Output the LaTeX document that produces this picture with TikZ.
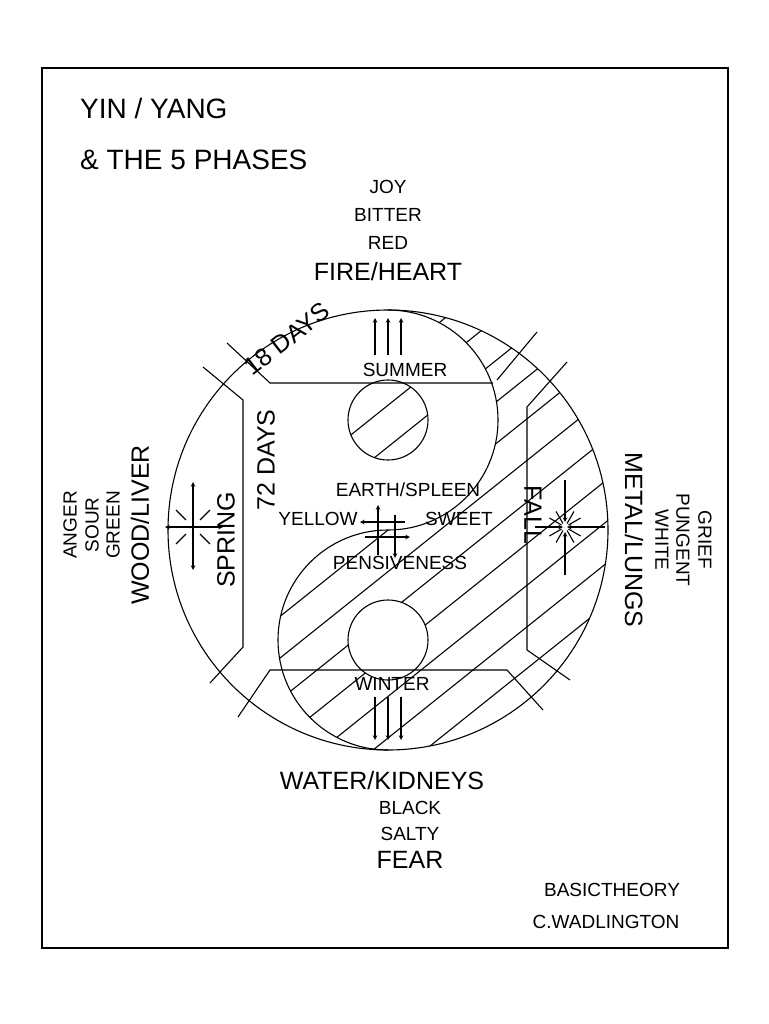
\documentclass[tikz,border=0pt]{standalone}
\usepackage{fontspec}
\setmainfont{Liberation Sans}
\begin{document}
\begin{tikzpicture}
      [ x=1pt, y=-1pt
      , ink/.style={black, line width=1.1pt}
      , lbl/.style={font=\fontsize{19}{19}\selectfont, inner sep=0pt}
      , big/.style={font=\fontsize{25}{25}\selectfont, inner sep=0pt}
      , arr/.style={ink, ->, >=stealth}
      ]
    \useasboundingbox (0,0) rectangle (768,1024);
    \draw[ink] (42,68) rectangle (728,948);

    % yin yang
    \coordinate (O) at (388,530);
    \draw[ink] (O) circle (220);
    \draw[ink] (388,310) arc (-90:90:110) arc (-90:-270:110);
    \draw[ink] (388,420) circle (40);
    \draw[ink] (388,640) circle (40);
    \begin{scope}[even odd rule]
      \clip (388,310) arc (-90:90:220) arc (90:270:110) arc (90:-90:110) -- cycle
        (388,640) circle (40) (388,420) circle (40);
      \foreach \k in {-10,...,10}
        \draw[ink] (388+\k*52-400,530+320) -- (388+\k*52+400,530-320);
    \end{scope}

    % season box
    \draw[ink] (227,343) -- (270,383) -- (493,383);
    \draw[ink] (203,367) -- (243,400) -- (243,647) -- (210,683);
    \draw[ink] (497,380) -- (537,332);
    \draw[ink] (567,362) -- (527,407) -- (527,650) -- (570,680);
    \draw[ink] (238,717) -- (270,670) -- (507,670) -- (543,710);

    % arrows
    \foreach \dx in {-13,0,13} {
      \draw[arr] (388+\dx,355) -- (388+\dx,318);
      \draw[arr] (388+\dx,697) -- (388+\dx,740);
    }
    \draw[arr] (193,527) -- (165,527);
    \draw[arr] (193,527) -- (223,527);
    \draw[arr] (193,527) -- (193,482);
    \draw[arr] (193,527) -- (193,570);
    \foreach \a in {45,135,225,315}
      \draw[ink] (193,527) ++(\a:10) -- ++(\a:14);
    \draw[arr] (535,527) -- (563,527);
    \draw[arr] (605,527) -- (567,527);
    \draw[arr] (565,480) -- (565,522);
    \draw[arr] (565,575) -- (565,532);
    \foreach \a in {30,60,120,150,210,240,300,330}
      \draw[ink] (565,527) ++(\a:4) -- ++(\a:14);
    \draw[arr] (395,515) -- (395,558);
    \draw[arr] (378,555) -- (378,505);
    \draw[arr] (365,537) -- (410,537);
    \draw[arr] (405,522) -- (360,522);

    % texts
    \node[big, anchor=west, font=\fontsize{28}{28}\selectfont] (T1) at (80,108) {YIN / YANG};
    \node[big, anchor=west, font=\fontsize{28}{28}\selectfont] (T2) at (80,160) {\& THE 5 PHASES};
    \node[lbl] (joy) at (388,187) {JOY};
    \node[lbl] (bitter) at (388,215) {BITTER};
    \node[lbl] (red) at (388,243) {RED};
    \node[big] (fire) at (388,272) {FIRE/HEART};
    \node[lbl] (summer) at (405,370) {SUMMER};
    \node[big, rotate=38, anchor=west] (d18) at (247,370) {18 DAYS};
    \node[big, rotate=90] (d72) at (266,460) {72 DAYS};
    \node[big, rotate=90] (spring) at (226,540) {SPRING};
    \node[lbl] (earth) at (408,490) {EARTH/SPLEEN};
    \node[lbl] (yellow) at (318,519) {YELLOW};
    \node[lbl] (sweet) at (459,519) {SWEET};
    \node[lbl] (pens) at (400,563) {PENSIVENESS};
    \node[big, rotate=-90] (fall) at (533,515) {FALL};
    \node[lbl] (winter) at (392,684) {WINTER};
    \node[lbl, rotate=90] (anger) at (70,525) {ANGER};
    \node[lbl, rotate=90] (sour) at (92,525) {SOUR};
    \node[lbl, rotate=90] (green) at (113,525) {GREEN};
    \node[big, rotate=90] (wood) at (140,525) {WOOD/LIVER};
    \node[big, rotate=-90] (metal) at (634,540) {METAL/LUNGS};
    \node[lbl, rotate=-90] (white) at (662,540) {WHITE};
    \node[lbl, rotate=-90] (pungent) at (683,540) {PUNGENT};
    \node[lbl, rotate=-90] (grief) at (705,540) {GRIEF};
    \node[big] (water) at (382,781) {WATER/KIDNEYS};
    \node[lbl] (black) at (410,808) {BLACK};
    \node[lbl] (salty) at (410,834) {SALTY};
    \node[big] (fear) at (410,860) {FEAR};
    \node[lbl] (basic) at (612,890) {BASICTHEORY};
    \node[lbl] (wad) at (606,922) {C.WADLINGTON};
\end{tikzpicture}
\end{document}
